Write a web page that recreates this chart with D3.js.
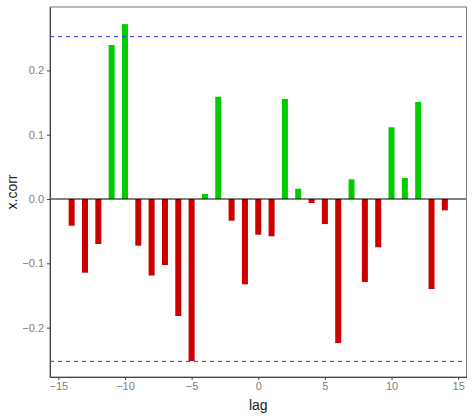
<!DOCTYPE html>
<html><head><meta charset="utf-8">
<script src="https://cdn.jsdelivr.net/npm/d3@7"></script>
<style>body{margin:0;background:#fff}svg{display:block}</style>
</head><body>
<script>
const lags = [-14,-13,-12,-11,-10,-9,-8,-7,-6,-5,-4,-3,-2,-1,0,1,2,3,4,5,6,7,8,9,10,11,12,13,14];
const xcorr = [-0.0415,-0.1146,-0.070,0.2395,0.272,-0.0726,-0.119,-0.1026,-0.182,-0.252,0.0078,0.159,-0.0337,-0.1327,-0.0555,-0.058,0.1555,0.016,-0.0062,-0.039,-0.224,0.0306,-0.129,-0.075,0.1115,0.0327,0.151,-0.140,-0.0176];
const ciBound = 0.2525;
const xTicks = [-15,-10,-5,0,5,10,15];
const yTicks = [-0.2,-0.1,0.0,0.1,0.2];

const W = 474, H = 419;
const L = 50, R = 466.5, T = 7, B = 377;
const svg = d3.select("body").append("svg").attr("width", W).attr("height", H);
const x = d3.scaleLinear().domain([-15.625, 15.625]).range([L, R]);
const y = d3.scaleLinear().domain([-0.2768, 0.2986]).range([B, T]);
const bw = x(0.45) - x(0);

svg.append("g").selectAll("rect").data(lags.map((l,i)=>({l, v: xcorr[i]}))).join("rect")
  .attr("x", d => x(d.l) - bw/2)
  .attr("width", bw)
  .attr("y", d => y(Math.max(0, d.v)))
  .attr("height", d => Math.abs(y(d.v) - y(0)))
  .attr("fill", d => d.v >= 0 ? "#00cc00" : "#cc0000");

svg.append("line").attr("x1", L).attr("x2", R).attr("y1", y(0)).attr("y2", y(0))
  .attr("stroke", "#000").attr("stroke-width", 1);

[ciBound, -ciBound].forEach(v => {
  svg.append("line").attr("x1", L).attr("x2", R).attr("y1", y(v)).attr("y2", y(v))
    .attr("stroke", "#3333ee").attr("stroke-width", 1).attr("stroke-dasharray", "4,4");
});

svg.append("rect").attr("x", L).attr("y", T).attr("width", R - L).attr("height", B - T)
  .attr("fill", "none").attr("stroke", "#777").attr("stroke-width", 1);

const xa = svg.append("g").attr("transform", `translate(0,${B})`)
  .call(d3.axisBottom(x).tickValues(xTicks).tickSize(3).tickSizeOuter(0).tickPadding(2).tickFormat(d3.format("d")));
const ya = svg.append("g").attr("transform", `translate(${L},0)`)
  .call(d3.axisLeft(y).tickValues(yTicks).tickSize(3).tickSizeOuter(0).tickPadding(3).tickFormat(d3.format(".1f")));
[xa, ya].forEach(a => {
  a.select(".domain").attr("stroke", "#444");
  a.selectAll(".tick line").attr("stroke", "#444");
  a.selectAll(".tick text").attr("fill", "#808080").style("font-family", "Arial, Liberation Sans, sans-serif").style("font-size", "11px");
});

svg.append("text").attr("x", (L + R) / 2).attr("y", 410).attr("text-anchor", "middle")
  .style("font-family", "Arial, Liberation Sans, sans-serif").style("font-size", "14px").attr("fill", "#222").text("lag");
svg.append("text").attr("transform", `translate(17,${(T + B) / 2}) rotate(-90)`).attr("text-anchor", "middle")
  .style("font-family", "Arial, Liberation Sans, sans-serif").style("font-size", "14px").attr("fill", "#222").text("x.corr");
</script>
</body></html>
